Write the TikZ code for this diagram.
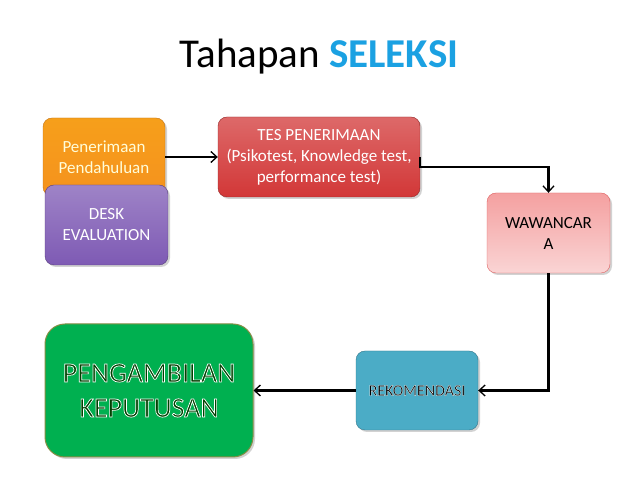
\documentclass[tikz,border=0pt]{standalone}
\usepackage{fontspec}
\setmainfont{Carlito}
\usetikzlibrary{arrows.meta,shadows}
\definecolor{seleksi}{RGB}{27,161,226}
\definecolor{orangebox}{RGB}{245,146,30}
\definecolor{purplebox}{RGB}{126,90,180}
\definecolor{redbox}{RGB}{210,55,55}
\definecolor{pinkbox}{RGB}{244,160,160}
\definecolor{tealbox}{RGB}{75,172,198}
\definecolor{greenbox}{RGB}{0,176,80}
\newcommand{\outlined}[2]{\special{pdf:literal 2 Tr 1 1 1 RG #1 w}#2\special{pdf:literal 0 Tr}}
\tikzset{
  box/.style={rounded corners=9pt, align=center, inner sep=0pt, font=\fontsize{17}{21}\selectfont,
    drop shadow={shadow xshift=2pt, shadow yshift=-2pt, opacity=.35}},
  link/.style={line width=2.2pt, -{Straight Barb[length=6pt, width=11pt, line width=1.3pt]}}
}
\begin{document}
\begin{tikzpicture}[x=1pt, y=1pt]
\useasboundingbox[fill=white] (0, 0) rectangle (638, 479);
\node (title) at (319, 422) {\fontsize{41}{45}\selectfont Tahapan \textcolor{seleksi}{\bfseries SELEKSI}};
\node[box, draw=orangebox!80!black, top color=orangebox!88!yellow, bottom color=orangebox, text=yellow!15,
  minimum width=122, minimum height=78] (pen) at (104, 322) {Penerimaan\\Pendahuluan};
\node[box, draw=purplebox!70!black, top color=purplebox!75!white, bottom color=purplebox, text=white,
  minimum width=123, minimum height=80] (desk) at (106.5, 254) {DESK\\EVALUATION};
\node[box, draw=redbox!70!black, top color=redbox!75!white, bottom color=redbox, text=white,
  minimum width=202, minimum height=80] (tes) at (319, 322) {TES PENERIMAAN\\(Psikotest, Knowledge test,\\performance test)};
\node[box, draw=redbox!60!pinkbox, top color=pinkbox, bottom color=pinkbox!45!white, text=black,
  minimum width=123, minimum height=80] (waw) at (548.5, 246) {WAWANCAR\\A};
\node[box, draw=tealbox!70!black, fill=tealbox, drop shadow={opacity=0}, font=\fontsize{16}{20}\selectfont,
  minimum width=122, minimum height=79, text=black] (rek) at (417, 88.5) {\outlined{0.25}{REKOMENDASI}};
\node[box, rounded corners=20pt, draw=brown!70!greenbox, line width=1pt, fill=greenbox, drop shadow={opacity=0},
  minimum width=208, minimum height=133, font=\fontsize{28}{35}\selectfont, text=green!25!black] (peng) at (149, 88.5)
  {\outlined{0.7}{PENGAMBILAN}\\\outlined{0.7}{KEPUTUSAN}};
\draw[link] (pen.east) -- (tes.west);
\draw[link] (tes.east) -- ++(0, -10) -| (waw.north);
\draw[link] (waw.south) |- (rek.east);
\draw[link] (rek.west) -- (peng.east);
\end{tikzpicture}
\end{document}
